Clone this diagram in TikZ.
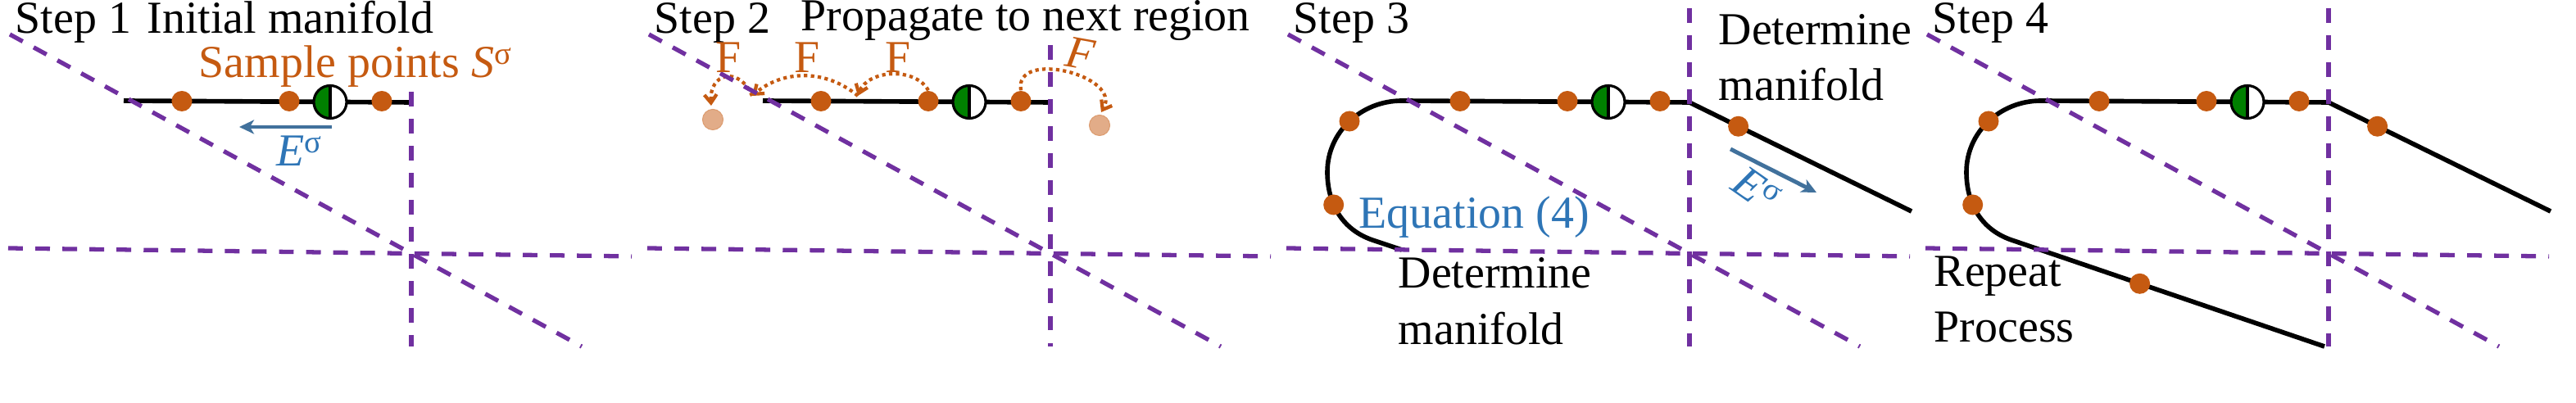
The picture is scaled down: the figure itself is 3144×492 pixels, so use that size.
\documentclass[tikz,border=0pt]{standalone}
\usepackage{fontspec}
\setmainfont{Liberation Serif}
\usetikzlibrary{arrows.meta,backgrounds}
\definecolor{regpurple}{HTML}{7030A0}
\definecolor{ptorange}{HTML}{C55A11}
\definecolor{eqblue}{HTML}{2E75B6}
\definecolor{arrblue}{HTML}{41719C}
\definecolor{fpgreen}{HTML}{008000}
\newcommand{\supsig}{\raisebox{0.3em}{\fontsize{11}{11}\selectfont σ}}
\begin{document}
\begin{tikzpicture}[x=0.01cm,y=0.01cm,line join=round]
	\tikzset{every node/.style={inner sep=0pt,font=\fontsize{15.9}{19}\selectfont},
		region/.style={regpurple,line width=1.5pt,dash pattern=on 5.1pt off 4.3pt},
		mfold/.style={line width=1.6pt},
		sample/.style={circle,fill=ptorange,minimum size=0.25cm},
		ghost/.style={circle,fill=ptorange!50,draw=ptorange!60,line width=0.3pt,minimum size=0.25cm},
		fixpt/.style={circle,draw,line width=0.9pt,fill=white,minimum size=0.4cm,
			path picture={\fill[fpgreen] (path picture bounding box.south west) rectangle (path picture bounding box.north);
				\draw[line width=0.9pt] (path picture bounding box.south) -- (path picture bounding box.north);}},
		hop/.style={ptorange,line width=1.2pt,dash pattern=on 1.2pt off 1.2pt,-{Straight Barb[length=0.1cm,width=0.15cm]}},
		edir/.style={arrblue,line width=1.4pt,-{Stealth[length=0.18cm,width=0.17cm,inset=0.05cm]}},
		txt/.style={anchor=base west}}
	\useasboundingbox (0,-492) rectangle (3144,0);
	% regions, step labels and the initial manifold of every panel
	\foreach \px/\vt [count=\n] in {502/112,1282/55,2062/10,2842/10}{
		\begin{scope}[shift={(\px,0)}]
			\draw[region] (-492,-303) -- (269,-313);
			\draw[region] (-490,-42) -- (208,-423);
			\draw[region] (0,-\vt) -- (0,-423);
			\node[txt] (step\n) at (-484,-41) {Step \n};
			\coordinate (ml\n) at (-351,-123);
			\coordinate (mr\n) at (0,-125);
			\foreach \sx/\k in {-280/a,-149/b,-36/c}
			\node[sample] (s\k\n) at (\sx,-123.5) {};
			\node[fixpt] (fp\n) at (-99,-124.5) {};
		\end{scope}
	}
	\begin{scope}[on background layer]
		\foreach \n in {1,2,3,4}
		\draw[mfold] (ml\n) -- (mr\n);
	\end{scope}
	% step 1
	\begin{scope}[shift={(502,0)}]
		\node[txt] (init) at (-323,-41) {Initial manifold};
		\node[txt,text=ptorange] (spts) at (-260,-95) {Sample points \textit{S}\supsig};
		\coordinate (ea1) at (-97,-155);
		\coordinate (eb1) at (-210,-155);
		\draw[edir] (ea1) -- (eb1);
		\node[txt,text=eqblue] (elbl1) at (-165,-203) {\textit{E}\supsig};
	\end{scope}
	% step 2
	\begin{scope}[shift={(1282,0)}]
		\node[txt] (prop) at (-305,-38) {Propagate to next region};
		\node[ghost] (g1) at (-412,-146) {};
		\node[ghost] (g2) at (60,-153) {};
		\coordinate (h1) at (-235,-117);
		\coordinate (h2) at (-364,-117);
		\coordinate (h3) at (-414,-129);
		\coordinate (h4) at (62,-137);
		\begin{scope}[on background layer]
			\draw[hop] (sb2.north) to[bend right=65] (h1);
			\draw[hop] (h1) to[bend right=40] (h2);
			\draw[hop] (h2) to[bend right=80,looseness=2] (h3);
			\draw[hop] (sc2.north) to[out=100,in=60,looseness=1.3] (h4);
		\end{scope}
		\foreach \fx/\fy/\k in {-393/-70/a,-297/-70/b,-186/-70/c}
		\node[text=ptorange] (f\k) at (\fx,\fy) {F};
		\node[text=ptorange,rotate=-10] (fd) at (37,-65) {\textit{F}};
	\end{scope}
	% step 3
	\begin{scope}[shift={(2062,0)}]
		\begin{scope}[on background layer]
			\draw[mfold] (mr3) -- (271,-258) node[sample,pos=0.22] (sd3) {};
			\draw[mfold] (ml3) to[out=180,in=90] node[sample,pos=0.5] (se3) {} (-442,-210)
				to[out=-90,in=161] node[sample,pos=0.375] (sf3) {} (-387,-293) -- (-351,-305);
		\end{scope}
		\coordinate (ea3) at (50,-182);
		\coordinate (eb3) at (155,-235);
		\draw[edir] (ea3) -- (eb3);
		\node[text=eqblue,rotate=-35] (elbl3) at (82,-231) {\textit{E}\supsig};
		\node[txt,text=eqblue] (eqn) at (-404,-279) {Equation (4)};
		\node[txt] (det1) at (35,-55) {Determine};
		\node[txt] (man1) at (35,-123) {manifold};
		\node[txt] (det2) at (-356,-352) {Determine};
		\node[txt] (man2) at (-356,-421) {manifold};
	\end{scope}
	% step 4
	\begin{scope}[shift={(2842,0)}]
		\begin{scope}[on background layer]
			\draw[mfold] (mr4) -- (271,-258) node[sample,pos=0.22] (sd4) {};
			\draw[mfold] (ml4) to[out=180,in=90] node[sample,pos=0.5] (se4) {} (-442,-210)
				to[out=-90,in=161] node[sample,pos=0.375] (sf4) {} (-387,-293)
				-- node[sample,pos=0.41] (sg4) {} (-5,-423);
		\end{scope}
		\node[txt] (rep) at (-482,-350) {Repeat};
		\node[txt] (proc) at (-482,-418) {Process};
	\end{scope}
\end{tikzpicture}
\end{document}
